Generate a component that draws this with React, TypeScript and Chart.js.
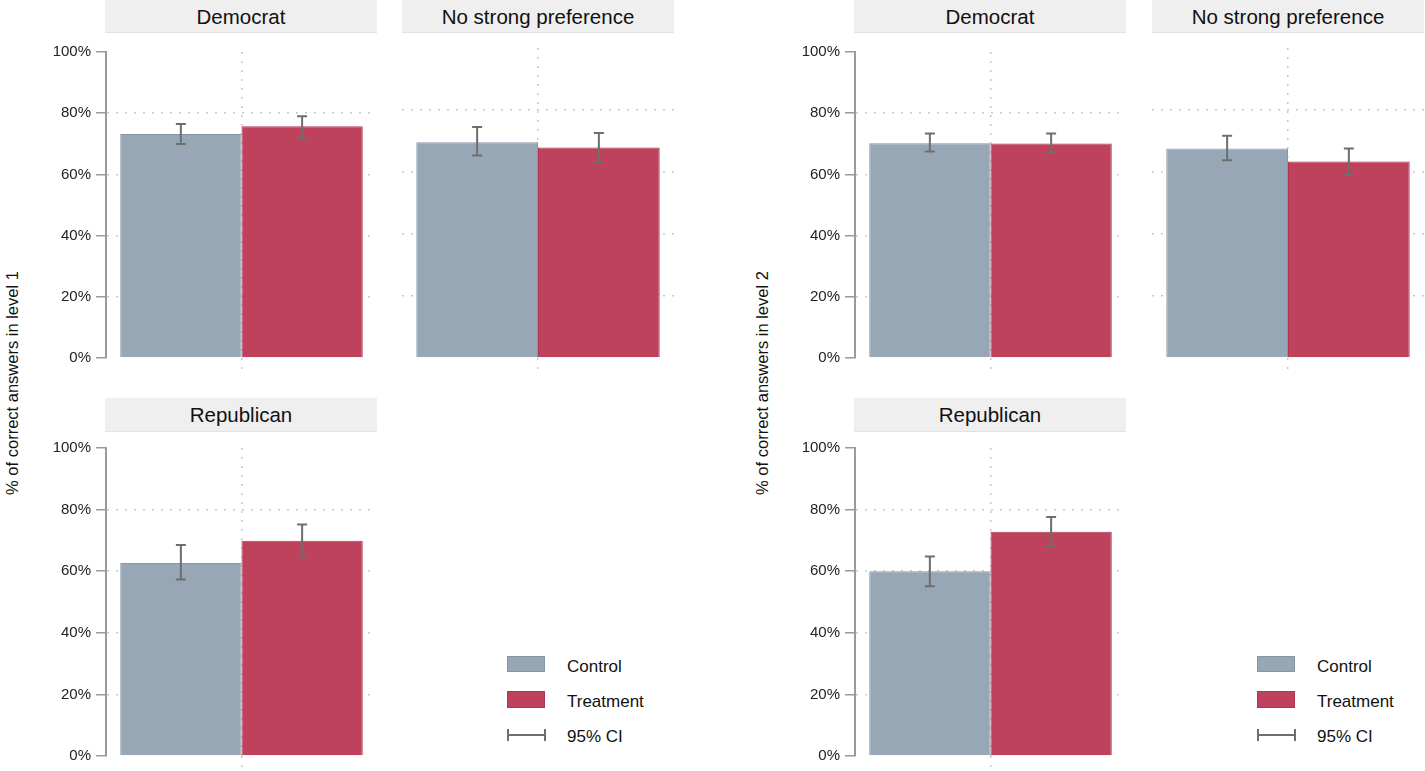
import React, { useEffect, useRef } from "react";
import { Chart, registerables } from "chart.js";

Chart.register(...registerables);

const panelNames = ["Democrat", "No strong preference", "Republican"];
const seriesNames = ["Control", "Treatment"];
const tickValues = [0, 20, 40, 60, 80, 100];

const level1Control = [73.2, 69.6, 62.7];
const level1ControlLo = [69.9, 65.3, 57.3];
const level1ControlHi = [76.5, 74.5, 68.5];
const level1Treatment = [75.7, 67.9, 69.9];
const level1TreatmentLo = [71.9, 63.2, 65.0];
const level1TreatmentHi = [79.0, 72.6, 75.2];

const level2Control = [70.2, 67.6, 60.0];
const level2ControlLo = [67.5, 63.8, 55.1];
const level2ControlHi = [73.4, 71.7, 64.8];
const level2Treatment = [70.1, 63.4, 72.8];
const level2TreatmentLo = [67.0, 59.0, 68.2];
const level2TreatmentHi = [73.4, 67.6, 77.6];

const levelTitles = ["% of correct answers in level 1", "% of correct answers in level 2"];

const FONT = "'Liberation Sans', Arial, sans-serif";
const CONTROL_FILL = "#97a7b6";
const CONTROL_BORDER = "#8696a6";
const TREAT_FILL = "#bf425c";
const TREAT_BORDER = "#b03751";
const ERR_COLOR = "#6e6e6e";
const GRID_COLOR = "#c8c8c8";

type PanelCfg = {
  L: number; R: number; T: number; B: number;
  axis: boolean;
  c: number; cLo: number; cHi: number;
  t: number; tLo: number; tHi: number;
};

const AXW = 60;
const PADT = 10;
const XH = 20;

function buildPanels(): { cfg: PanelCfg; strip: { x0: number; x1: number; y0: number; y1: number; text: string } }[] {
  const out: any[] = [];
  const levels = [
    { c: level1Control, cLo: level1ControlLo, cHi: level1ControlHi, t: level1Treatment, tLo: level1TreatmentLo, tHi: level1TreatmentHi, dx: 0 },
    { c: level2Control, cLo: level2ControlLo, cHi: level2ControlHi, t: level2Treatment, tLo: level2TreatmentLo, tHi: level2TreatmentHi, dx: 749 },
  ];
  levels.forEach((lv, li) => {
    const pos = [
      { L: 106, R: 377, T: 48, B: 358, axis: true, sy0: 0, sy1: 33, sx0: 105 },
      { L: 402, R: 674, T: 48, B: 358, axis: false, sy0: 0, sy1: 33, sx0: 402 },
      { L: 106, R: 377, T: 444, B: 756, axis: true, sy0: 398, sy1: 432, sx0: 105 },
    ];
    pos.forEach((p, i) => {
      const extra = li === 1 && i === 1 ? 1 : 0;
      const L = p.L + lv.dx + extra;
      const R = Math.min(p.R + lv.dx + extra, 1424);
      out.push({
        cfg: {
          L, R, T: p.T, B: p.B, axis: p.axis,
          c: lv.c[i], cLo: lv.cLo[i], cHi: lv.cHi[i],
          t: lv.t[i], tLo: lv.tLo[i], tHi: lv.tHi[i],
        },
        strip: { x0: p.sx0 + lv.dx + extra, x1: R, y0: p.sy0, y1: p.sy1, text: panelNames[i] },
      });
    });
  });
  return out;
}

const errorBarPlugin = {
  id: "errorBars",
  afterDatasetsDraw(chart: any) {
    const ctx = chart.ctx;
    const ys = chart.scales.y;
    chart.data.datasets.forEach((ds: any, di: number) => {
      const meta = chart.getDatasetMeta(di);
      meta.data.forEach((bar: any, j: number) => {
        const lo = ds.errLo[j];
        const hi = ds.errHi[j];
        const x = bar.x;
        const y0 = ys.getPixelForValue(lo);
        const y1 = ys.getPixelForValue(hi);
        ctx.save();
        ctx.strokeStyle = ERR_COLOR;
        ctx.lineWidth = 2;
        ctx.beginPath();
        ctx.moveTo(x, y0);
        ctx.lineTo(x, y1);
        ctx.moveTo(x - 5, y0);
        ctx.lineTo(x + 5, y0);
        ctx.moveTo(x - 5, y1);
        ctx.lineTo(x + 5, y1);
        ctx.stroke();
        ctx.restore();
      });
    });
  },
};

function PanelChart({ cfg }: { cfg: PanelCfg }) {
  const ref = useRef<HTMLCanvasElement | null>(null);
  const w = cfg.R - cfg.L + AXW;
  const h = cfg.B - cfg.T + PADT + XH;
  useEffect(() => {
    if (!ref.current) return;
    const chart = new Chart(ref.current, {
      type: "bar",
      data: {
        labels: [""],
        datasets: [
          {
            label: seriesNames[0],
            data: [cfg.c],
            backgroundColor: CONTROL_FILL,
            borderColor: CONTROL_BORDER,
            borderWidth: 1,
            errLo: [cfg.cLo],
            errHi: [cfg.cHi],
          } as any,
          {
            label: seriesNames[1],
            data: [cfg.t],
            backgroundColor: TREAT_FILL,
            borderColor: TREAT_BORDER,
            borderWidth: 1,
            errLo: [cfg.tLo],
            errHi: [cfg.tHi],
          } as any,
        ],
      },
      options: {
        responsive: false,
        animation: false,
        devicePixelRatio: 1,
        layout: { padding: { top: PADT, right: 0, left: 0, bottom: 0 } },
        datasets: { bar: { categoryPercentage: 0.895, barPercentage: 1.0 } },
        plugins: { legend: { display: false }, tooltip: { enabled: false }, title: { display: false } },
        scales: {
          x: {
            type: "category",
            offset: true,
            grid: {
              display: true,
              offset: false,
              color: GRID_COLOR,
              lineWidth: 1.5,
              drawTicks: true,
              tickLength: 14,
              tickColor: GRID_COLOR,
              tickBorderDash: [2, 7],
            } as any,
            border: { display: false, dash: [2, 7] },
            ticks: { display: false },
            afterFit(scale: any) { scale.height = XH; },
          },
          y: {
            min: 0,
            max: 100,
            afterBuildTicks(scale: any) { scale.ticks = tickValues.map((v) => ({ value: v })); },
            ticks: {
              display: cfg.axis,
              padding: 5,
              color: "#222",
              font: { family: FONT, size: 15 },
              callback: (v: any) => v + "%",
            },
            grid: {
              color: (c: any) => (c.tick && c.tick.value > 0 && c.tick.value < 100 ? GRID_COLOR : "rgba(0,0,0,0)"),
              lineWidth: 1.5,
              drawTicks: cfg.axis,
              tickLength: 10,
              tickColor: "#9a9a9a",
              tickWidth: 1.5,
              tickBorderDash: [],
            } as any,
            border: { display: cfg.axis, color: "#9a9a9a", width: 2, dash: [2, 7] },
            afterFit(scale: any) { scale.width = AXW; },
          },
        },
      },
      plugins: [errorBarPlugin],
    });
    return () => chart.destroy();
  }, []);
  return (
    <canvas
      ref={ref}
      width={w}
      height={h}
      style={{ position: "absolute", left: cfg.L - AXW, top: cfg.T - PADT, width: w, height: h }}
    />
  );
}

function Legend({ x }: { x: number }) {
  const text = { position: "absolute" as const, left: x + 60, fontFamily: FONT, fontSize: 17, color: "#111", lineHeight: "20px" };
  return (
    <>
      <div style={{ position: "absolute", left: x, top: 656, width: 38, height: 16, background: CONTROL_FILL, boxSizing: "border-box", border: `1px solid ${CONTROL_BORDER}` }} />
      <div style={{ ...text, top: 657 }}>{seriesNames[0]}</div>
      <div style={{ position: "absolute", left: x, top: 691, width: 38, height: 17, background: TREAT_FILL, boxSizing: "border-box", border: `1px solid ${TREAT_BORDER}` }} />
      <div style={{ ...text, top: 692 }}>{seriesNames[1]}</div>
      <div style={{ position: "absolute", left: x, top: 734, width: 39, height: 2, background: ERR_COLOR }} />
      <div style={{ position: "absolute", left: x, top: 729, width: 2, height: 12, background: ERR_COLOR }} />
      <div style={{ position: "absolute", left: x + 37, top: 729, width: 2, height: 12, background: ERR_COLOR }} />
      <div style={{ ...text, top: 727 }}>95% CI</div>
    </>
  );
}

export default function App() {
  const panels = buildPanels();
  return (
    <div style={{ position: "fixed", left: 0, top: 0, width: 1425, height: 771, overflow: "hidden", background: "#fff" }}>
      {panels.map((p, i) => (
        <div
          key={"s" + i}
          style={{
            position: "absolute",
            left: p.strip.x0,
            top: p.strip.y0,
            width: p.strip.x1 - p.strip.x0,
            height: p.strip.y1 - p.strip.y0,
            background: "#efefef",
            borderBottom: "1px solid #e2e2e2",
            boxSizing: "border-box",
            fontFamily: FONT,
            fontSize: 20.5,
            color: "#111",
            textAlign: "center",
            lineHeight: `${p.strip.y1 - p.strip.y0}px`,
          }}
        >
          {p.strip.text}
        </div>
      ))}
      {panels.map((p, i) => (
        <PanelChart key={"c" + i} cfg={p.cfg} />
      ))}
      {levelTitles.map((t, i) => (
        <div
          key={"t" + i}
          style={{
            position: "absolute",
            left: 12 + i * 750 - 150,
            top: 383 - 10,
            width: 300,
            height: 20,
            lineHeight: "20px",
            textAlign: "center",
            transform: "rotate(-90deg)",
            fontFamily: FONT,
            fontSize: 16.5,
            color: "#111",
            whiteSpace: "nowrap",
          }}
        >
          {t}
        </div>
      ))}
      <Legend x={507} />
      <Legend x={1257} />
    </div>
  );
}
